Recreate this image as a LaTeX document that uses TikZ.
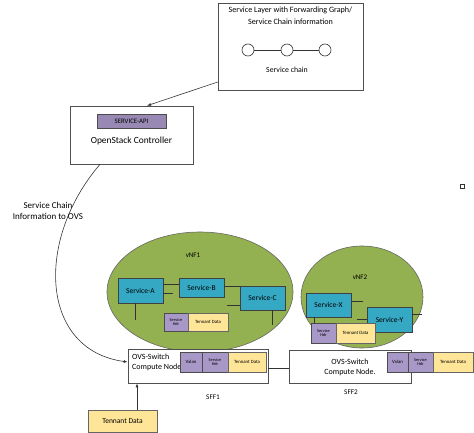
\documentclass[tikz,border=0pt]{standalone}
\usepackage{fontspec}
\setmainfont{Carlito}
\usetikzlibrary{arrows.meta,shapes.geometric}
\definecolor{vnfgreen}{HTML}{93B150}
\definecolor{svcblue}{HTML}{35A8C4}
\definecolor{hdrpurple}{HTML}{A898C8}
\definecolor{tdyellow}{HTML}{FFE597}
\definecolor{edge}{HTML}{505050}
\begin{document}
\begin{tikzpicture}[x=1pt,y=-1pt,
  frame/.style={draw=edge, fill=white, line width=0.6pt, inner sep=0pt},
  svc/.style={draw=black!75, fill=svcblue, line width=0.6pt, inner sep=0pt, minimum width=45pt, font=\fontsize{7.5}{8}\selectfont},
  hdr/.style={draw=black!70, fill=hdrpurple, line width=0.5pt, inner sep=0pt, align=center, font=\fontsize{4.3}{4.8}\selectfont},
  td/.style={draw=black!60, fill=tdyellow, line width=0.5pt, inner sep=0pt, align=center, font=\fontsize{4.8}{5.5}\selectfont},
  vnf/.style={ellipse, draw=black!60, fill=vnfgreen, line width=0.6pt, inner sep=0pt},
  lbl/.style={inner sep=0pt, align=center},
  conn/.style={draw=black!80, line width=0.6pt},
  arr/.style={draw=black!80, line width=0.6pt, -{Latex[length=4pt,width=3pt]}},
  chain/.style={circle, draw=black!80, fill=white, line width=0.6pt, minimum size=12pt, inner sep=0pt}
]
\useasboundingbox (0,0) rectangle (474,433);

% Service layer box
\node[frame, minimum width=145pt, minimum height=87pt] (sl) at (290.5,46.5) {};
\node[lbl, font=\fontsize{8.1}{12}\selectfont] (sltxt) at (290.5,16) {Service Layer with Forwarding Graph/\\Service Chain information};
\node[chain] (c1) at (248,50) {};
\node[chain] (c2) at (287,50) {};
\node[chain] (c3) at (325,50) {};
\draw[conn] (c1) -- (c2) (c2) -- (c3);
\node[lbl, font=\fontsize{7.8}{8}\selectfont] (sctxt) at (287,70) {Service chain};

% OpenStack controller
\node[frame, minimum width=123pt, minimum height=58pt] (osc) at (131.5,135) {};
\node[draw=black!70, fill=hdrpurple!90!black, line width=0.6pt, inner sep=0pt, minimum width=69pt, minimum height=14pt, font=\fontsize{6.8}{7.5}\selectfont] (api) at (131.5,121) {SERVICE-API};
\node[lbl, font=\fontsize{9.4}{10}\selectfont] (osctxt) at (131.5,141) {OpenStack Controller};

\draw[arr] (sl.west |- 0,82) -- (osc.north -| 147,0);

% vNF1
\node[vnf, minimum width=186pt, minimum height=120pt] (vnf1) at (200,292) {};
\node[lbl, font=\fontsize{7}{8}\selectfont] (vnf1t) at (193,255) {vNF1};
\node[svc, minimum height=25pt] (sa) at (140.5,290.5) {Service-A};
\node[svc, minimum height=19pt] (sb) at (201.5,287.5) {Service-B};
\node[svc, minimum height=24pt] (sc) at (262.5,298) {Service-C};
\draw[conn] (sa.east |- 0,284) -- (sb.west |- 0,284);
\draw[conn] (sa.east |- 0,293) -- ++(10,0);
\draw[conn] (sb.east |- 0,286) -- (sc.west |- 0,286);
\draw[conn] (sc.west |- 0,305) -- ++(-13,0);
\draw[conn] (sa.south -| 135,0) -- ++(0,17);
\draw[conn] (sc.south -| 272,0) -- ++(0,15);
\node[hdr, minimum width=24pt, minimum height=18pt] (h1) at (176,322) {Service\\Hdr};
\node[td, minimum width=40pt, minimum height=18pt] (t1) at (208,322) {Tennant Data};

% vNF2
\node[vnf, minimum width=122pt, minimum height=102pt] (vnf2) at (362,297) {};
\node[lbl, font=\fontsize{7}{8}\selectfont] (vnf2t) at (360,277) {vNF2};
\node[svc, minimum height=24pt] (sx) at (328.5,305) {Service-X};
\node[svc, minimum height=25pt] (sy) at (389.5,319.5) {Service-Y};
\draw[conn] (sx.east |- 0,301) -- ++(12,0);
\draw[conn] (sy.west |- 0,319) -- ++(-10,0);
\draw[conn] (sy.east |- 0,314) -- ++(10,0);
\draw[conn] (sx.south -| 314,0) -- ++(0,6);
\node[hdr, minimum width=25pt, minimum height=20pt] (h2) at (323.5,333) {Service\\Hdr};
\node[td, minimum width=39pt, minimum height=20pt] (t2) at (355.5,333) {Tennant Data};

% OVS switch 1
\node[frame, minimum width=140pt, minimum height=34pt] (ovs1) at (198,366) {};
\node[lbl, anchor=west, align=left, font=\fontsize{8}{9.5}\selectfont] (ovs1t) at (132,362.5) {OVS-Switch\\Compute Node};
\node[hdr, minimum width=22pt, minimum height=20pt, font=\fontsize{4.8}{5.5}\selectfont] (vx1) at (191,362) {Vxlan};
\node[hdr, minimum width=26pt, minimum height=20pt] (sh1) at (215,362) {Service\\Hdr};
\node[td, minimum width=38pt, minimum height=20pt] (td1) at (247,362) {Tennant Data};
\node[lbl, font=\fontsize{7.2}{8}\selectfont] (sff1) at (213,397) {SFF1};

% OVS switch 2
\node[frame, minimum width=122pt, minimum height=33pt] (ovs2) at (350,366.5) {};
\node[lbl, font=\fontsize{8}{10}\selectfont] (ovs2t) at (350,367) {OVS-Switch\\Compute Node.};
\node[hdr, minimum width=21pt, minimum height=20pt, font=\fontsize{4.8}{5.5}\selectfont] (vx2) at (397.5,362) {Vxlan};
\node[hdr, minimum width=25pt, minimum height=20pt] (sh2) at (420.5,362) {Service\\Hdr};
\node[td, minimum width=40pt, minimum height=20pt] (td2) at (453,362) {Tennant Data};
\node[lbl, font=\fontsize{7.2}{8}\selectfont] (sff2) at (351,392) {SFF2};

\draw[conn] (ovs1.east |- 0,368) -- (ovs2.west |- 0,368);

% Tennant data input
\node[td, minimum width=69pt, minimum height=22pt, font=\fontsize{7.5}{8}\selectfont] (tin) at (122.5,421) {Tennant Data};
\draw[arr] (tin.north -| 137,0) -- (ovs1.south -| 137,0);

% Service chain info to OVS
\draw[arr] (osc.south -| 100,0) .. controls (35,240) and (40,350) .. (ovs1.west |- 0,362);
\node[lbl, font=\fontsize{9}{11.5}\selectfont] (scinfo) at (48,211) {Service Chain\\Information to OVS};

% small square
\draw[black!80, line width=0.6pt] (460,184) rectangle (464,188);
\end{tikzpicture}
\end{document}
